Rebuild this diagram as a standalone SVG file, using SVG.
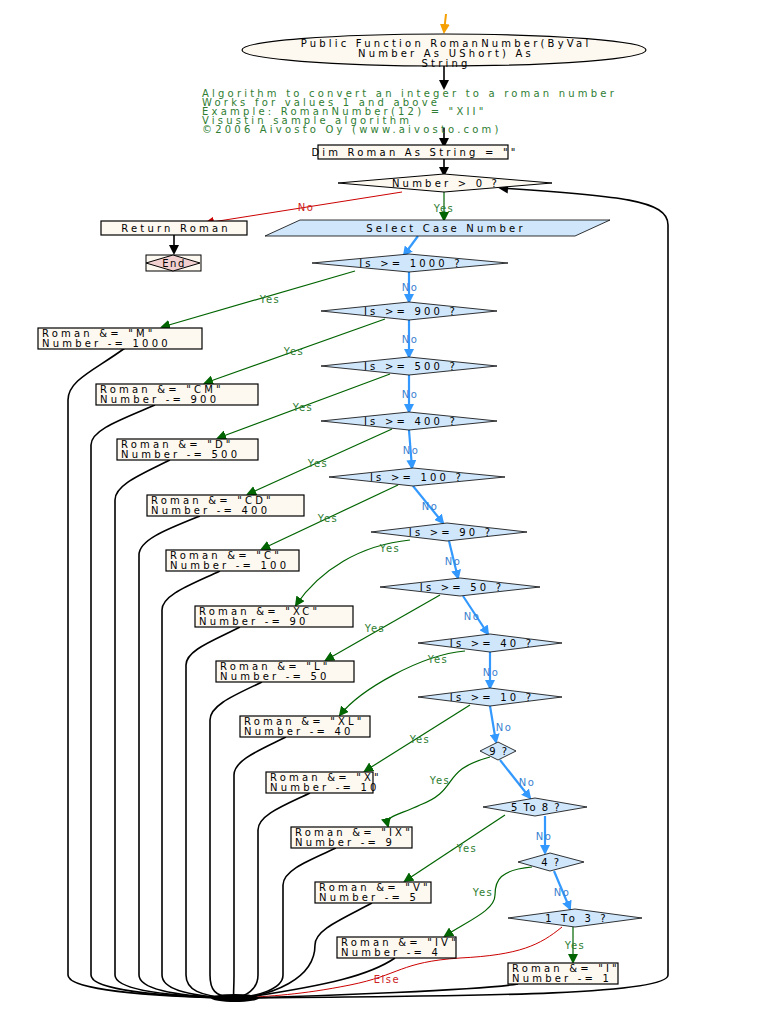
<svg xmlns="http://www.w3.org/2000/svg" width="768" height="1024" viewBox="0 0 768 1024">
<style>
text{font-family:"DejaVu Sans","Liberation Sans",Arial,sans-serif;font-size:10px;letter-spacing:3.2px}
.box{fill:#fdf8f0;stroke:#000;stroke-width:1.2}
.dec{fill:#cfe6fb;stroke:#000;stroke-width:0.8}
.y{stroke:#006400;fill:none;stroke-width:1.2}
.n{stroke:#3399ff;fill:none;stroke-width:2.2}
.k{stroke:#000;fill:none;stroke-width:1.6}
.r{stroke:#cc0000;fill:none;stroke-width:1}
.ly{fill:#2e7d32}.ln{fill:#3a7fd0}.lr{fill:#cc2222}
.c{text-anchor:middle}
.s{letter-spacing:1.5px}
</style>
<defs>
<marker id="ak" markerWidth="10" markerHeight="10" refX="8" refY="5" orient="auto" markerUnits="userSpaceOnUse"><path d="M0,0 L10,5 L0,10z" fill="#000"/></marker>
<marker id="ay" markerWidth="10" markerHeight="10" refX="8" refY="5" orient="auto" markerUnits="userSpaceOnUse"><path d="M0,0 L10,5 L0,10z" fill="#006400"/></marker>
<marker id="an" markerWidth="10" markerHeight="10" refX="8" refY="5" orient="auto" markerUnits="userSpaceOnUse"><path d="M0,0 L10,5 L0,10z" fill="#3399ff"/></marker>
<marker id="ar" markerWidth="10" markerHeight="10" refX="8" refY="5" orient="auto" markerUnits="userSpaceOnUse"><path d="M0,0 L10,5 L0,10z" fill="#cc0000"/></marker>
<marker id="ao" markerWidth="10" markerHeight="10" refX="8" refY="5" orient="auto" markerUnits="userSpaceOnUse"><path d="M0,0 L10,5 L0,10z" fill="#f5a000"/></marker>
</defs>
<g id="connectors">
<path d="M446,14 L444,32" stroke="#f5a000" stroke-width="2" fill="none" marker-end="url(#ao)"/>
<path class="k" d="M444,66 V88" marker-end="url(#ak)"/>
<path class="k" d="M444,128 V146" marker-end="url(#ak)"/>
<path class="k" d="M444,159 V175" marker-end="url(#ak)"/>
<path class="r" d="M402,192 L206,223" marker-end="url(#ar)"/>
<text x="306" y="211" class="lr c s">No</text>
<path class="y" d="M444,192 V220" stroke-width="2" marker-end="url(#ay)"/>
<text x="444" y="212" class="ly c s">Yes</text>
<path class="k" d="M174,235 V253" marker-end="url(#ak)"/>
<path class="n" d="M418,236 L404,255" stroke-width="1.8" marker-end="url(#an)"/>
<path class="n" d="M409,272 V302" marker-end="url(#an)"/><text x="410" y="291" class="ln c s">No</text>
<path class="n" d="M409,320 V357" marker-end="url(#an)"/><text x="410" y="343" class="ln c s">No</text>
<path class="n" d="M409,375 V412" marker-end="url(#an)"/><text x="410" y="398" class="ln c s">No</text>
<path class="n" d="M409,430 L412,468" marker-end="url(#an)"/><text x="411" y="454" class="ln c s">No</text>
<path class="n" d="M413,486 L443,523" marker-end="url(#an)"/><text x="430" y="510" class="ln c s">No</text>
<path class="n" d="M449,541 L458,578" marker-end="url(#an)"/><text x="453" y="565" class="ln c s">No</text>
<path class="n" d="M463,596 L488,634" marker-end="url(#an)"/><text x="472" y="620" class="ln c s">No</text>
<path class="n" d="M490,652 V688" marker-end="url(#an)"/><text x="491" y="676" class="ln c s">No</text>
<path class="n" d="M490,706 L496,742" marker-end="url(#an)"/><text x="504" y="731" class="ln c s">No</text>
<path class="n" d="M500,760 L530,798" marker-end="url(#an)"/><text x="527" y="786" class="ln c s">No</text>
<path class="n" d="M545,816 V853" marker-end="url(#an)"/><text x="544" y="840" class="ln c s">No</text>
<path class="n" d="M554,871 L570,909" marker-end="url(#an)"/><text x="562" y="896" class="ln c s">No</text>
<path class="y" d="M355,271 L162,327" marker-end="url(#ay)"/><text x="270" y="303" class="ly c s">Yes</text>
<path class="y" d="M385,319 L205,383" marker-end="url(#ay)"/><text x="294" y="355" class="ly c s">Yes</text>
<path class="y" d="M390,374 L218,438" marker-end="url(#ay)"/><text x="303" y="411" class="ly c s">Yes</text>
<path class="y" d="M392,429 L248,494" marker-end="url(#ay)"/><text x="318" y="467" class="ly c s">Yes</text>
<path class="y" d="M398,485 L262,549" marker-end="url(#ay)"/><text x="328" y="522" class="ly c s">Yes</text>
<path class="y" d="M410,540 C360,545 320,570 296,605" marker-end="url(#ay)"/><text x="390" y="552" class="ly c s">Yes</text>
<path class="y" d="M440,595 L326,660" marker-end="url(#ay)"/><text x="375" y="632" class="ly c s">Yes</text>
<path class="y" d="M465,651 C420,655 360,690 340,715" marker-end="url(#ay)"/><text x="438" y="663" class="ly c s">Yes</text>
<path class="y" d="M470,705 L365,771" marker-end="url(#ay)"/><text x="420" y="743" class="ly c s">Yes</text>
<path class="y" d="M490,757 C440,770 460,790 420,805 C400,815 385,815 388,826" marker-end="url(#ay)"/><text x="440" y="784" class="ly c s">Yes</text>
<path class="y" d="M505,815 L405,881" marker-end="url(#ay)"/><text x="467" y="852" class="ly c s">Yes</text>
<path class="y" d="M532,867 C500,870 495,880 495,895 C495,910 470,920 445,936" marker-end="url(#ay)"/><text x="483" y="896" class="ly c s">Yes</text>
<path class="y" d="M573,927 V962" stroke-width="2" marker-end="url(#ay)"/><text x="575" y="949" class="ly c s">Yes</text>
<path class="r" d="M562,927 C540,945 520,955 460,958 C400,962 400,975 350,985 C300,995 270,996 240,998"/>
<text x="387" y="983" class="lr c s">Else</text>
<g class="k">
<path d="M125,348 C95,370 68,380 68,400 V975 C68,990 150,996 225,998"/>
<path d="M155,405 C120,420 91,430 91,445 V975 C91,990 160,996 226,998"/>
<path d="M170,460 C140,475 115,485 115,500 V975 C115,990 170,996 228,998"/>
<path d="M200,516 C165,530 139,540 139,555 V975 C139,990 180,996 229,998"/>
<path d="M220,571 C190,585 162,595 162,610 V975 C162,990 190,996 230,998"/>
<path d="M240,627 C215,640 186,650 186,665 V975 C186,990 200,996 231,998"/>
<path d="M262,682 C235,695 210,705 210,720 V975 C210,990 215,996 232,998"/>
<path d="M286,737 C260,750 234,760 234,775 V975 C234,990 233,996 234,998"/>
<path d="M310,793 C285,805 258,815 258,830 V975 C258,990 245,996 236,998"/>
<path d="M336,848 C310,860 283,870 283,885 V975 C283,990 255,996 238,998"/>
<path d="M372,903 C340,920 315,930 315,945 C315,980 270,995 240,998"/>
<path d="M395,958 C370,975 330,985 242,998"/>
<path d="M518,984 C480,990 320,996 244,998"/>
<path d="M244,998 C450,996 668,996 668,975 V225 C668,200 620,196 500,188" marker-end="url(#ak)"/>
</g>
<ellipse cx="235" cy="998" rx="24" ry="4" fill="#000"/>
</g>
<g id="start"><ellipse cx="444" cy="50" rx="202" ry="16" class="box"/>
<text x="446" y="47" class="c">Public Function RomanNumber(ByVal</text><text x="446" y="57" class="c">Number As UShort) As</text><text x="446" y="67" class="c">String</text></g>
<g id="comment" class="ly"><text x="202" y="97">Algorithm to convert an integer to a roman number</text><text x="202" y="106">Works for values 1 and above</text><text x="202" y="115">Example: RomanNumber(12) = "XII"</text><text x="202" y="124">Visustin sample algorithm</text><text x="202" y="133">©2006 Aivosto Oy (www.aivosto.com)</text></g>
<g id="dim"><rect x="318" y="145" width="190" height="14" class="box"/><text x="415" y="156" class="c">Dim Roman As String = ""</text></g>
<g id="cond"><polygon points="338,183 444,174 552,183 444,192" fill="#fdf8f0" stroke="#000"/><text x="446" y="187" class="c">Number &gt; 0 ?</text></g>
<g id="ret"><rect x="101" y="221" width="146" height="14" class="box"/><text x="176" y="232" class="c">Return Roman</text></g>
<g id="end"><rect x="146" y="255" width="55" height="16" fill="#fdf8f0" stroke="#000"/><polygon points="146,263 173,255 200,263 173,271" fill="#f2d0d0" stroke="#000"/><text x="174" y="267" class="c s">End</text></g>
<g id="select"><polygon points="265,236 300,220 610,220 575,236" class="dec"/><text x="446" y="232" class="c">Select Case Number</text></g>
<g id="d1000"><polygon points="312,263 409,254 508,263 409,272" class="dec"/><text x="411" y="267" class="c">Is &gt;= 1000 ?</text></g>
<g id="d900"><polygon points="321,311 409,302 497,311 409,320" class="dec"/><text x="411" y="315" class="c">Is &gt;= 900 ?</text></g>
<g id="d500"><polygon points="321,366 409,357 497,366 409,375" class="dec"/><text x="411" y="370" class="c">Is &gt;= 500 ?</text></g>
<g id="d400"><polygon points="321,421 409,412 497,421 409,430" class="dec"/><text x="411" y="425" class="c">Is &gt;= 400 ?</text></g>
<g id="d100"><polygon points="329,477 413,468 505,477 413,486" class="dec"/><text x="417" y="481" class="c">Is &gt;= 100 ?</text></g>
<g id="d90"><polygon points="371,532 447,523 527,532 447,541" class="dec"/><text x="451" y="536" class="c">Is &gt;= 90 ?</text></g>
<g id="d50"><polygon points="380,587 460,578 540,587 460,596" class="dec"/><text x="462" y="591" class="c">Is &gt;= 50 ?</text></g>
<g id="d40"><polygon points="418,643 490,634 562,643 490,652" class="dec"/><text x="492" y="647" class="c">Is &gt;= 40 ?</text></g>
<g id="d10"><polygon points="418,697 490,688 562,697 490,706" class="dec"/><text x="492" y="701" class="c">Is &gt;= 10 ?</text></g>
<g id="d9"><polygon points="480,751 498,742 516,751 498,760" class="dec"/><text x="499" y="755" class="c s">9 ?</text></g>
<g id="d58"><polygon points="483,807 535,798 587,807 535,816" class="dec"/><text x="536" y="811" class="c s">5 To 8 ?</text></g>
<g id="d4"><polygon points="518,862 550,853 584,862 550,871" class="dec"/><text x="551" y="866" class="c s">4 ?</text></g>
<g id="d13"><polygon points="508,918 575,909 642,918 575,927" class="dec"/><text x="577" y="922" class="c">1 To 3 ?</text></g>
<g id="bM"><rect x="38" y="328" width="164" height="21" class="box"/><text x="42" y="337">Roman &amp;= "M"</text><text x="42" y="347">Number -= 1000</text></g>
<g id="bCM"><rect x="96" y="384" width="162" height="21" class="box"/><text x="100" y="393">Roman &amp;= "CM"</text><text x="100" y="403">Number -= 900</text></g>
<g id="bD"><rect x="117" y="439" width="141" height="21" class="box"/><text x="121" y="448">Roman &amp;= "D"</text><text x="121" y="458">Number -= 500</text></g>
<g id="bCD"><rect x="147" y="495" width="157" height="21" class="box"/><text x="151" y="504">Roman &amp;= "CD"</text><text x="151" y="514">Number -= 400</text></g>
<g id="bC"><rect x="166" y="550" width="133" height="21" class="box"/><text x="170" y="559">Roman &amp;= "C"</text><text x="170" y="569">Number -= 100</text></g>
<g id="bXC"><rect x="195" y="606" width="158" height="21" class="box"/><text x="199" y="615">Roman &amp;= "XC"</text><text x="199" y="625">Number -= 90</text></g>
<g id="bL"><rect x="216" y="661" width="138" height="21" class="box"/><text x="220" y="670">Roman &amp;= "L"</text><text x="220" y="680">Number -= 50</text></g>
<g id="bXL"><rect x="240" y="716" width="130" height="21" class="box"/><text x="244" y="725">Roman &amp;= "XL"</text><text x="244" y="735">Number -= 40</text></g>
<g id="bX"><rect x="266" y="772" width="107" height="21" class="box"/><text x="270" y="781">Roman &amp;= "X"</text><text x="270" y="791">Number -= 10</text></g>
<g id="bIX"><rect x="291" y="827" width="121" height="21" class="box"/><text x="295" y="836">Roman &amp;= "IX"</text><text x="295" y="846">Number -= 9</text></g>
<g id="bV"><rect x="315" y="882" width="116" height="21" class="box"/><text x="319" y="891">Roman &amp;= "V"</text><text x="319" y="901">Number -= 5</text></g>
<g id="bIV"><rect x="337" y="937" width="119" height="21" class="box"/><text x="341" y="946">Roman &amp;= "IV"</text><text x="341" y="956">Number -= 4</text></g>
<g id="bI"><rect x="508" y="963" width="110" height="21" class="box"/><text x="512" y="972">Roman &amp;= "I"</text><text x="512" y="982">Number -= 1</text></g>
</svg>
